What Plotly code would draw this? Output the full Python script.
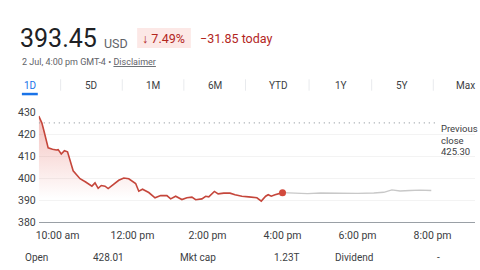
import plotly.graph_objects as go
from datetime import datetime, timedelta

# ---- data ----
session_minutes = [0, 5, 9, 15, 22, 28, 31, 36, 41, 46, 55, 66, 75, 85, 90, 95, 100, 106, 111,
                   121, 128, 136, 144, 155, 160, 166, 176, 186, 195, 205, 211, 219, 229, 237,
                   245, 251, 261, 267, 272, 281, 287, 296, 306, 314, 325, 336, 349, 356, 363,
                   367, 372, 378, 384, 390]
session_prices = [428.4, 425.2, 420.8, 413.9, 413.3, 412.9, 413.1, 411.1, 412.6, 412.1, 403.4,
                  399.8, 398.3, 396.4, 397.9, 395.4, 396.7, 396.4, 395.3, 397.3, 399.1, 400.1,
                  399.8, 397.6, 394.1, 395.0, 393.5, 391.1, 392.1, 392.1, 390.6, 391.8, 390.3,
                  391.1, 391.4, 390.2, 390.6, 391.8, 391.5, 394.0, 392.9, 393.2, 393.2, 392.5,
                  391.8, 391.5, 391.1, 389.6, 391.8, 392.5, 391.8, 392.5, 392.8, 393.45]
after_minutes = [390, 403, 430, 451, 483, 510, 536, 552, 565, 578, 594, 610, 628]
after_prices = [393.45, 393.2, 393.0, 393.3, 393.1, 393.1, 393.3, 393.6, 394.7, 394.2, 394.4, 394.6, 394.4]
prev_close = 425.30
x_tick_labels = ["10:00 am", "12:00 pm", "2:00 pm", "4:00 pm", "6:00 pm", "8:00 pm"]
x_tick_minutes = [30, 150, 270, 390, 510, 630]
y_ticks = [380, 390, 400, 410, 420, 430]
tabs = ["1D", "5D", "1M", "6M", "YTD", "1Y", "5Y", "Max"]
stats = [("Open", "428.01"), ("Mkt cap", "1.23T"), ("Dividend", "-")]

base = datetime(2024, 7, 2, 9, 30)
T = lambda m: base + timedelta(minutes=m)
sx = [T(m) for m in session_minutes]
ax = [T(m) for m in after_minutes]

W, H = 480, 270
px = lambda x: x / W
py = lambda y: 1 - y / H
FONT = "Roboto, Arial, sans-serif"
RED = "#c5463b"
TXT = "#3c4043"

fig = go.Figure()
fig.add_trace(go.Scatter(
    x=sx, y=session_prices, mode="lines", fill="tozeroy",
    line=dict(color=RED, width=1.6),
    fillgradient=dict(type="vertical", start=393, stop=428,
                      colorscale=[[0, "rgba(217,48,37,0)"], [1, "rgba(217,48,37,0.3)"]]),
    hoverinfo="skip", showlegend=False))
fig.add_trace(go.Scatter(
    x=ax, y=after_prices, mode="lines",
    line=dict(color="#c8c8c8", width=1.4), hoverinfo="skip", showlegend=False))
fig.add_trace(go.Scatter(
    x=[sx[-1]], y=[session_prices[-1]], mode="markers",
    marker=dict(color="#d24a3d", size=7), hoverinfo="skip", showlegend=False, cliponaxis=False))

fig.add_shape(type="line", xref="x", yref="y", x0=T(0), x1=T(636), y0=prev_close, y1=prev_close,
              line=dict(color="#9aa0a6", width=1.3, dash="1px,4px"))

annotations = []
def txt(x, y, s, size, color=TXT, xa="left", ya="middle", family=FONT):
    annotations.append(dict(x=px(x), y=py(y), xref="paper", yref="paper", text=s, showarrow=False,
                            xanchor=xa, yanchor=ya, font=dict(size=size, color=color, family=family)))

# header
txt(15, 34, "393.45", 25, "#202124")
txt(100, 39, "USD", 12.5, "#5f6368")
fig.add_shape(type="rect", xref="paper", yref="paper", x0=px(135), x1=px(189), y0=py(23), y1=py(44),
              fillcolor="#fce8e6", line=dict(width=0), layer="below")
txt(162, 34, "↓ 7.49%", 12.5, "#b3261e", xa="center")
txt(196, 34, "−31.85 today", 12.5, "#b3261e")
txt(17, 59, "2 Jul, 4:00 pm GMT-4 • <u>Disclaimer</u>", 9, "#5f6368")

# tabs
tab_x = [27, 89, 151, 213, 277, 340, 402, 465]
for i, (t, x) in enumerate(zip(tabs, tab_x)):
    txt(x, 83, t, 10, "#1a73e8" if i == 0 else TXT, xa="center")
for sxp in [58, 120, 182, 244, 308, 371, 433]:
    fig.add_shape(type="line", xref="paper", yref="paper", x0=px(sxp), x1=px(sxp), y0=py(77), y1=py(89),
                  line=dict(color="#e8eaed", width=1))
fig.add_shape(type="line", xref="paper", yref="paper", x0=px(19), x1=px(35), y0=py(92.5), y1=py(92.5),
              line=dict(color="#1a73e8", width=2.5))

# previous close label
txt(439, 129, "Previous", 9.5)
txt(439, 141, "close", 9.5)
txt(439, 153, "425.30", 9.5)

# stats row
stat_x = [(20, 89), (176, 271), (332, 435)]
for (lab, val), (xl, xv) in zip(stats, stat_x):
    txt(xl, 264, lab, 10)
    txt(xv, 264, val, 10)

fig.update_layout(
    width=W, height=H, margin=dict(l=0, r=0, t=0, b=0),
    paper_bgcolor="white", plot_bgcolor="white",
    annotations=annotations, font=dict(family=FONT, color=TXT),
    xaxis=dict(domain=[px(36), px(475)], range=[T(0), T(698)], type="date",
               tickvals=[T(m) for m in x_tick_minutes], ticktext=x_tick_labels,
               showgrid=False, showline=True, linecolor="#9aa0a6", linewidth=1,
               ticks="", tickfont=dict(size=10.5, color=TXT), ticklabelstandoff=3,
               zeroline=False, fixedrange=True),
    yaxis=dict(domain=[py(227), py(112)], range=[380, 430], tickvals=y_ticks,
               showgrid=True, gridcolor="#f3f3f3", gridwidth=1, zeroline=False,
               showline=False, ticks="", tickfont=dict(size=10.5, color=TXT),
               ticklabelstandoff=2, fixedrange=True),
)
fig.write_html("out.html")
